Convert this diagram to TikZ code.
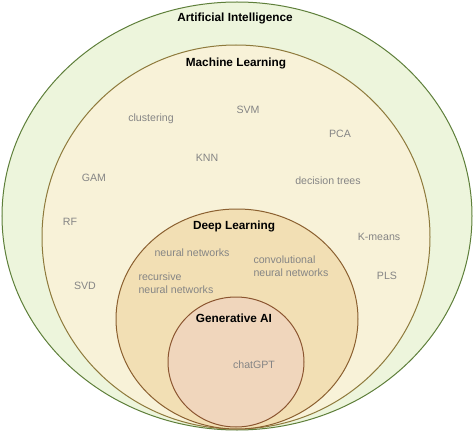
\documentclass[tikz,border=0pt]{standalone}
\usepackage{fontspec}
\setmainfont{Liberation Sans}
\usetikzlibrary{positioning}

\definecolor{aifill}{HTML}{EDF5DC}
\definecolor{ailine}{HTML}{5E7F3A}
\definecolor{mlfill}{HTML}{F8F2D8}
\definecolor{mlline}{HTML}{8E7A3C}
\definecolor{dlfill}{HTML}{F2DFB4}
\definecolor{dlline}{HTML}{8B6030}
\definecolor{genfill}{HTML}{F0D6BC}
\definecolor{genline}{HTML}{8B5530}
\definecolor{methgrey}{HTML}{858585}

\begin{document}
\begin{tikzpicture}[x=1pt,y=-1pt,
                    field/.style={font=\bfseries\fontsize{11.8}{14}\selectfont,text=black},
                    method/.style={font=\fontsize{10.6}{12.5}\selectfont,text=methgrey,align=left,inner sep=1pt},
                    line width=1pt]

  \useasboundingbox (0,0) rectangle (474,433);

  % nested fields
  \draw[fill=aifill,draw=ailine]   (237,216) ellipse [x radius=235pt, y radius=214pt];
  \draw[fill=mlfill,draw=mlline]   (236,237) ellipse [x radius=194pt, y radius=192pt];
  \draw[fill=dlfill,draw=dlline]   (237,319) ellipse [x radius=121pt, y radius=110pt];
  \draw[fill=genfill,draw=genline] (236,362) ellipse [x radius=68pt, y radius=65pt];

  % titles
  \node[field] (ai)  at (235,18)  {Artificial Intelligence};
  \node[field] (ml)  at (236,63)  {Machine Learning};
  \node[field] (dl)  at (234,226) {Deep Learning};
  \node[field] (gen) at (234,318) {Generative AI};

  % machine learning methods
  \node[method] (clustering) at (151,119) {clustering};
  \node[method] (svm)        at (248,110) {SVM};
  \node[method] (pca)        at (340,134) {PCA};
  \node[method] (knn)        at (207,158) {KNN};
  \node[method] (gam)        at (94,178)  {GAM};
  \node[method] (dtrees)     at (328,181) {decision trees};
  \node[method] (rf)         at (70,222)  {RF};
  \node[method] (kmeans)     at (379,237) {K-means};
  \node[method] (svd)        at (85,286)  {SVD};
  \node[method] (pls)        at (387,276) {PLS};

  % deep learning methods
  \node[method] (nn)   at (192,253) {neural networks};
  \node[method,anchor=west] (cnn) at (252,266) {convolutional\\neural networks};
  \node[method,anchor=west] (rnn) at (137,283) {recursive\\neural networks};

  % generative
  \node[method] (gpt) at (254,365) {chatGPT};

\end{tikzpicture}
\end{document}
